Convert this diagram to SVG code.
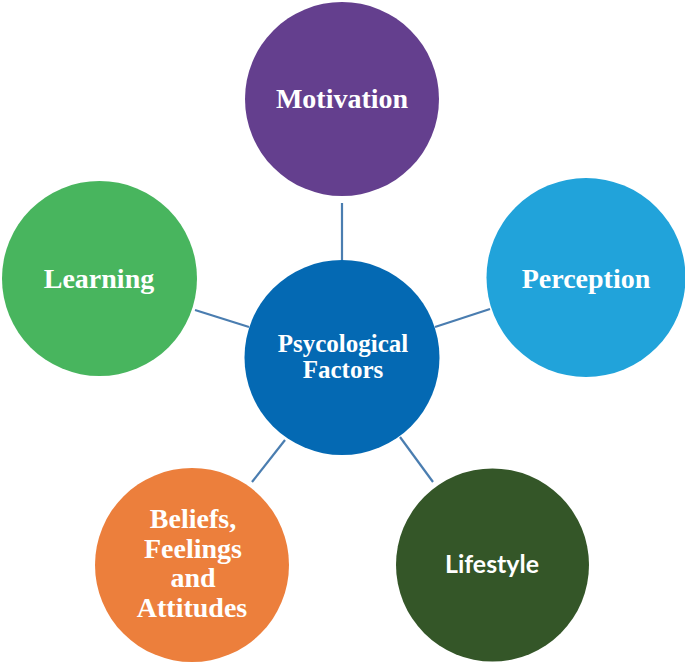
<svg xmlns="http://www.w3.org/2000/svg" width="685" height="664" viewBox="0 0 685 664">
<style>
.lbl{font-family:"Liberation Serif","Times New Roman",serif;font-weight:bold;fill:#ffffff;text-anchor:middle}
.big{font-size:28px}
.mid{font-size:25px}
.sans{font-family:Lato,"Liberation Sans",sans-serif;font-weight:bold;fill:#ffffff;text-anchor:middle;font-size:25px}
.conn line{stroke:#4A7DB0;stroke-width:2.2}
</style>
<rect width="685" height="664" fill="#ffffff"/>
<g id="connectors" class="conn">
<line x1="342" y1="203" x2="342" y2="261"/>
<line x1="195" y1="310" x2="249" y2="327"/>
<line x1="435" y1="327" x2="490" y2="309"/>
<line x1="285" y1="440" x2="252" y2="482"/>
<line x1="400" y1="437" x2="433" y2="482"/>
</g>
<g id="motivation">
<circle cx="342" cy="99" r="97" fill="#643F8E"/>
<text class="lbl big" x="342" y="108">Motivation</text>
</g>
<g id="learning">
<circle cx="99.5" cy="278.5" r="97.5" fill="#48B55E"/>
<text class="lbl big" x="99" y="288">Learning</text>
</g>
<g id="perception">
<circle cx="586" cy="277.5" r="99.5" fill="#21A3DA"/>
<text class="lbl big" x="586" y="288">Perception</text>
</g>
<g id="psycological-factors">
<circle cx="342" cy="357.5" r="97.5" fill="#0469B3"/>
<text class="lbl mid" x="343" y="352">Psycological</text>
<text class="lbl mid" x="343" y="378">Factors</text>
</g>
<g id="beliefs">
<circle cx="192" cy="565" r="97" fill="#EC7F3C"/>
<text class="lbl big" x="193" y="528">Beliefs,</text>
<text class="lbl big" x="193" y="558">Feelings</text>
<text class="lbl big" x="193" y="587">and</text>
<text class="lbl big" x="192" y="617">Attitudes</text>
</g>
<g id="lifestyle">
<circle cx="492.5" cy="565" r="96.5" fill="#345628"/>
<text class="sans" x="492" y="573" textLength="94" lengthAdjust="spacingAndGlyphs">Lifestyle</text>
</g>
</svg>
